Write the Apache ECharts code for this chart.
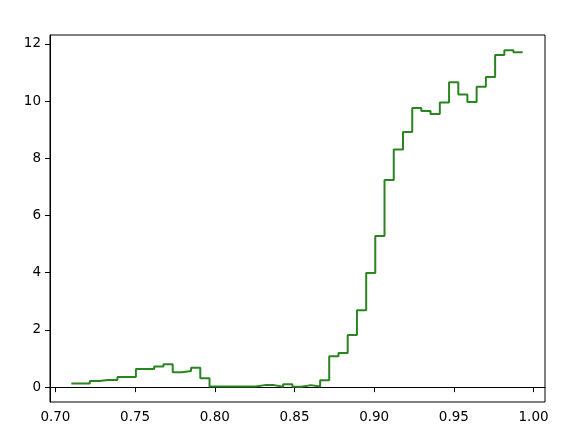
<!DOCTYPE html>
<html>
<head>
<meta charset="utf-8">
<script src="https://cdn.jsdelivr.net/npm/echarts@6/dist/echarts.min.js"></script>
<style>html,body{margin:0;padding:0;background:#fff;}#c{width:578px;height:434px;}</style>
</head>
<body>
<div id="c"></div>
<script>
var binEdges = [0.7100,0.7158,0.7216,0.7273,0.7331,0.7389,0.7447,0.7505,0.7562,0.7620,
  0.7678,0.7736,0.7794,0.7851,0.7909,0.7967,0.8025,0.8083,0.8140,0.8198,
  0.8256,0.8314,0.8372,0.8429,0.8487,0.8545,0.8603,0.8661,0.8718,0.8776,
  0.8834,0.8892,0.8950,0.9007,0.9065,0.9123,0.9181,0.9239,0.9296,0.9354,
  0.9412,0.9470,0.9528,0.9585,0.9643,0.9701,0.9759,0.9817,0.9874,0.9932];
var binValues = [0.13,0.13,0.21,0.245,0.245,0.35,0.35,0.63,0.63,0.72,
  0.80,0.52,0.56,0.68,0.31,0.02,0.02,0.02,0.02,0.02,
  0.07,0.07,0.01,0.10,0.01,0.07,0.02,0.24,1.08,1.19,
  1.82,2.69,3.99,5.28,7.24,8.31,8.92,9.76,9.65,9.55,
  9.95,10.66,10.23,9.97,10.50,10.84,11.61,11.78,11.71];
var xTicks = [0.70,0.75,0.80,0.85,0.90,0.95,1.00];
var yTicks = [0,2,4,6,8,10,12];

var pts = [];
for (var i = 0; i < binValues.length; i++) pts.push([binEdges[i], binValues[i]]);
pts.push([binEdges[binValues.length], binValues[binValues.length - 1]]);

var font = 'DejaVu Sans';
var chart = echarts.init(document.getElementById('c'), null, {renderer: 'canvas'});
chart.setOption({
  animation: false,
  grid: {left: 50, right: 33, top: 35, bottom: 32, show: true, borderColor: '#000', borderWidth: 1, backgroundColor: 'transparent'},
  xAxis: {
    type: 'value', min: 0.6966, max: 1.0072,
    splitLine: {show: false},
    axisLine: {show: true, lineStyle: {color: '#000', width: 1}},
    axisTick: {show: true, length: 5, lineStyle: {color: '#000', width: 1}, customValues: xTicks},
    axisLabel: {color: '#000', fontFamily: font, fontSize: 13.5, margin: 8, customValues: xTicks,
      formatter: function (v) { return v.toFixed(2); }}
  },
  yAxis: {
    type: 'value', min: -0.52, max: 12.31,
    splitLine: {show: false},
    axisLine: {show: true, lineStyle: {color: '#000', width: 1}},
    axisTick: {show: true, length: 5, lineStyle: {color: '#000', width: 1}, customValues: yTicks},
    axisLabel: {color: '#000', fontFamily: font, fontSize: 13.5, margin: 9, customValues: yTicks,
      formatter: function (v) { return String(Math.round(v)); }}
  },
  series: [{
    type: 'line', step: 'end', data: pts, showSymbol: false, symbol: 'none',
    lineStyle: {color: '#2a8520', width: 2}, itemStyle: {color: '#2a8520'}
  }]
});
</script>
</body>
</html>
